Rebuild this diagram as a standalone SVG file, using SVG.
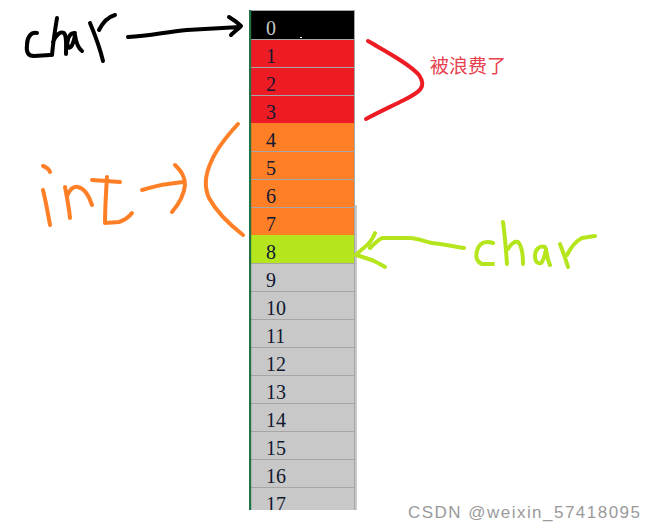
<svg xmlns="http://www.w3.org/2000/svg" width="655" height="531" viewBox="0 0 655 531">
<style>
.cell{stroke:none}
.sep{stroke:#a6a6a6;stroke-width:1}
.num{font-family:"Liberation Serif","Times New Roman",serif;font-size:20px;fill:#101830}
.ink{fill:none;stroke-linecap:round;stroke-linejoin:round;stroke-width:4}
.k{stroke:#000}
.o{stroke:#ff7f27}
.g{stroke:#b5e61d}
.r{stroke:#ed1c24}
</style>
<rect width="655" height="531" fill="#fff"/>
<g id="memory">
  <rect x="354" y="205" width="3" height="305" fill="#c8c8c8"/>
  <line x1="354.5" y1="205" x2="354.5" y2="510" stroke="#a6a6a6"/>
  <g id="cell0"><rect class="cell" x="251" y="11" width="103" height="28" fill="#000"/><rect x="300" y="37" width="2" height="1" fill="#fff"/><text class="num" x="266" y="35" style="fill:#c8c8c8">0</text></g>
  <g id="cell1"><rect class="cell" x="251" y="39" width="103" height="28" fill="#ed1c24"/><text class="num" x="266" y="63">1</text></g>
  <g id="cell2"><rect class="cell" x="251" y="67" width="103" height="28" fill="#ed1c24"/><text class="num" x="266" y="91">2</text></g>
  <g id="cell3"><rect class="cell" x="251" y="95" width="103" height="28" fill="#ed1c24"/><text class="num" x="266" y="119">3</text></g>
  <g id="cell4"><rect class="cell" x="251" y="123" width="103" height="28" fill="#ff7f27"/><text class="num" x="266" y="147">4</text></g>
  <g id="cell5"><rect class="cell" x="251" y="151" width="103" height="28" fill="#ff7f27"/><text class="num" x="266" y="175">5</text></g>
  <g id="cell6"><rect class="cell" x="251" y="179" width="103" height="28" fill="#ff7f27"/><text class="num" x="266" y="203">6</text></g>
  <g id="cell7"><rect class="cell" x="251" y="207" width="103" height="28" fill="#ff7f27"/><text class="num" x="266" y="231">7</text></g>
  <g id="cell8"><rect class="cell" x="251" y="235" width="103" height="28" fill="#b5e61d"/><text class="num" x="266" y="259">8</text></g>
  <g id="cell9"><rect class="cell" x="251" y="263" width="103" height="28" fill="#c8c8c8"/><text class="num" x="266" y="287">9</text></g>
  <g id="cell10"><rect class="cell" x="251" y="291" width="103" height="28" fill="#c8c8c8"/><text class="num" x="266" y="315">10</text></g>
  <g id="cell11"><rect class="cell" x="251" y="319" width="103" height="28" fill="#c8c8c8"/><text class="num" x="266" y="343">11</text></g>
  <g id="cell12"><rect class="cell" x="251" y="347" width="103" height="28" fill="#c8c8c8"/><text class="num" x="266" y="371">12</text></g>
  <g id="cell13"><rect class="cell" x="251" y="375" width="103" height="28" fill="#c8c8c8"/><text class="num" x="266" y="399">13</text></g>
  <g id="cell14"><rect class="cell" x="251" y="403" width="103" height="28" fill="#c8c8c8"/><text class="num" x="266" y="427">14</text></g>
  <g id="cell15"><rect class="cell" x="251" y="431" width="103" height="28" fill="#c8c8c8"/><text class="num" x="266" y="455">15</text></g>
  <g id="cell16"><rect class="cell" x="251" y="459" width="103" height="28" fill="#c8c8c8"/><text class="num" x="266" y="483">16</text></g>
  <g id="cell17"><rect class="cell" x="251" y="487" width="103" height="23" fill="#c8c8c8"/><text class="num" x="266" y="511">17</text></g>
  <rect x="240" y="510" width="130" height="21" fill="#fff"/>
  <g>
    <line class="sep" x1="251" y1="10.5" x2="355" y2="10.5"/>
    <line class="sep" x1="251" y1="39.5" x2="354" y2="39.5"/>
    <line class="sep" x1="251" y1="67.5" x2="354" y2="67.5"/>
    <line class="sep" x1="251" y1="95.5" x2="354" y2="95.5"/>
    <line class="sep" x1="251" y1="151.5" x2="354" y2="151.5"/>
    <line class="sep" x1="251" y1="179.5" x2="354" y2="179.5"/>
    <line class="sep" x1="251" y1="207.5" x2="354" y2="207.5"/>
    <line class="sep" x1="251" y1="263.5" x2="354" y2="263.5"/>
    <line class="sep" x1="251" y1="291.5" x2="354" y2="291.5"/>
    <line class="sep" x1="251" y1="319.5" x2="354" y2="319.5"/>
    <line class="sep" x1="251" y1="347.5" x2="354" y2="347.5"/>
    <line class="sep" x1="251" y1="375.5" x2="354" y2="375.5"/>
    <line class="sep" x1="251" y1="403.5" x2="354" y2="403.5"/>
    <line class="sep" x1="251" y1="431.5" x2="354" y2="431.5"/>
    <line class="sep" x1="251" y1="459.5" x2="354" y2="459.5"/>
    <line class="sep" x1="251" y1="487.5" x2="354" y2="487.5"/>
    <line x1="354.5" y1="10" x2="354.5" y2="205" stroke="#a6a6a6"/>
  </g>
  <rect x="249" y="10" width="2.2" height="500" fill="#217346"/>
</g>
<g id="label-char-black">
  <path class="ink k" d="M37,33 C31,32 27,37 27,45 C26,52 28,56 34,56 L50,55"/>
  <path class="ink k" d="M57,18 C55,30 53,44 52,55 M53,42 C56,35 60,31 64,33 C67,36 66,46 66,54"/>
  <path class="ink k" d="M75,33 C69,32 66,42 68,47 C71,50 74,42 75,35 C76,42 78,48 82,51"/>
  <path class="ink k" d="M90,23 C95,35 100,48 103,61 M99,30 C103,22 108,17 115,15"/>
</g>
<g id="label-int">
  <path class="ink o" d="M43,166 C46,167 49,169 50,172"/>
  <path class="ink o" d="M43,190 C46,202 48,214 50,225"/>
  <path class="ink o" d="M65,187 C67,197 69,208 70,218 M67,196 C70,189 74,186 78,187 C83,188 88,193 92,205"/>
  <path class="ink o" d="M92,180 L120,182 M107,177 C106,192 105,210 105,223 L119,222 C125,220 129,217 132,213"/>
</g>
<g id="label-wasted">
  <text x="430" y="73" style="font-family:'Noto Sans CJK SC','Noto Sans CJK JP',sans-serif;font-size:19px;fill:#e8414d">被浪费了</text>
</g>
<g id="label-char-green">
  <path class="ink g" d="M493,243 C487,241 481,242 478,248 C475,255 476,262 482,264 L493,264"/>
  <path class="ink g" d="M503,222 C505,236 506,250 507,264 M508,249 C511,244 515,241 518,242 C521,245 523,252 523,264"/>
  <path class="ink g" d="M545,247 C539,245 535,250 535,256 C535,262 538,264 541,263 C544,260 545,255 546,249 C547,256 548,261 550,265"/>
  <path class="ink g" d="M560,244 C563,252 566,260 568,267 M567,255 C571,247 576,241 582,238 L595,236"/>
</g>
<g id="connectors">
  <path class="ink k" d="M128,37 C150,36 165,32 187,30 C205,29 222,28 240,27 M229,17 C234,20 238,23 241,26 C238,29 234,32 231,35"/>
  <path class="ink r" d="M368,41 C385,51 410,64 419,75 C427,87 420,92 404,100 C390,107 377,113 366,119"/>
  <path class="ink o" d="M142,190 C152,187 160,185 168,184 L183,182 M175,165 C181,171 185,176 185,185 C184,195 178,205 172,212"/>
  <path class="ink o" d="M238,124 C226,137 216,150 211,162 C205,175 204,187 209,198 C216,211 229,224 243,235"/>
  <path class="ink g" d="M464,248 C452,246 442,244 432,243 C423,241 417,238 410,238 L382,238 C378,240 374,244 370,248 M375,233 C373,238 370,243 366,246 C362,249 359,252 356,255 C362,257 370,259 374,261 C378,263 382,265 385,267"/>
</g>
<g id="watermark">
  <text x="408" y="518" textLength="232" style="font-family:'Liberation Sans',Arial,sans-serif;font-size:17px;fill:#9a9a9a">CSDN @weixin_57418095</text>
</g>
</svg>
